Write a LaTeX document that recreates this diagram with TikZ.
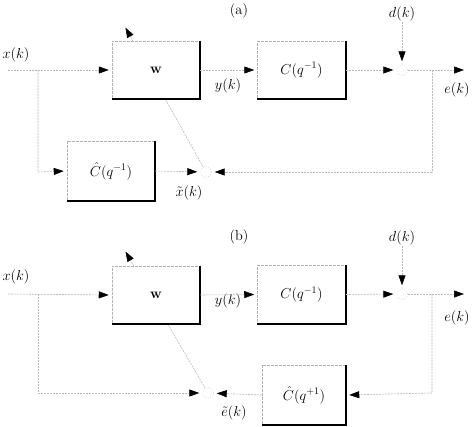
\documentclass[tikz,border=0pt]{standalone}
\usetikzlibrary{arrows.meta}
\newcommand\boxedge[1]{\draw[edge] (#1.north east) -- (#1.south east) -- (#1.south west);}
\begin{document}
\begin{tikzpicture}[x=1pt,y=-1pt,
  sig/.style={draw=gray!55, line width=0.6pt, dash pattern=on 2pt off 1pt},
  arr/.style={sig, -{Triangle[length=10pt,width=7pt,black]}, shorten >=3pt},
  blk/.style={draw=gray!60, line width=0.5pt, dash pattern=on 3pt off 1pt, fill=white,
              minimum width=88pt, minimum height=58pt, inner sep=0pt,
              font=\Large},
  edge/.style={draw=black, line width=1.6pt},
  sum/.style={circle, draw=gray!40, line width=0.4pt, dash pattern=on 1pt off 1.5pt,
              minimum size=11pt, inner sep=0pt},
  lbl/.style={font=\Large, inner sep=1pt},
]
\useasboundingbox (0,0) rectangle (474,427);

% ---------------- (a) ----------------
\node[lbl] (ta) at (239,11) {(a)};
\node[sum] (sa1) at (402,70) {};
\node[sum] (sa2) at (206,172) {};
\coordinate (adapa) at (124,25);
\draw[arr] (sa2) -- (adapa);

\node[blk] (wa) at (156,70) {$\mathbf{w}$};
\node[blk] (Ca) at (301.5,70) {$C(q^{-1})$};
\node[blk, minimum height=60pt] (Cha) at (111,171) {$\hat{C}(q^{-1})$};
\boxedge{wa}
\boxedge{Ca}
\boxedge{Cha}

\node[lbl] (xla) at (16,55) {$x(k)$};
\node[lbl] (yla) at (228,86) {$y(k)$};
\node[lbl] (dla) at (402,14) {$d(k)$};
\node[lbl] (ela) at (457,90) {$e(k)$};
\node[lbl] (xta) at (189,193) {$\tilde{x}(k)$};

\coordinate (ina) at (8,70);
\coordinate (ja) at (38,70);
\coordinate (jb) at (38,172);
\coordinate (eoa) at (467,70);
\coordinate (fa1) at (432,70);
\coordinate (fa2) at (432,172);

\draw[arr] (ina) -- (wa.west);
\draw[arr] (ja) -- (jb) -- (Cha.west);
\draw[arr] (wa.east) -- (Ca.west);
\draw[arr] (Ca.east) -- (sa1);
\draw[arr] (dla.south) -- (sa1);
\draw[arr] (sa1) -- (eoa);
\draw[arr] (fa1) -- (fa2) -- (sa2);
\draw[arr] (Cha.east) -- (sa2);

% ---------------- (b) ----------------
\node[lbl] (tb) at (239,237) {(b)};
\node[sum] (sb1) at (402,294) {};
\node[sum] (sb2) at (208,393) {};
\coordinate (adapb) at (124,249);
\draw[arr] (sb2) -- (adapb);

\node[blk] (wb) at (156,295) {$\mathbf{w}$};
\node[blk] (Cb) at (301.5,294.5) {$C(q^{-1})$};
\node[blk, minimum width=84pt, minimum height=60pt] (Chb) at (304,395) {$\hat{C}(q^{+1})$};
\boxedge{wb}
\boxedge{Cb}
\boxedge{Chb}

\node[lbl] (xlb) at (16,277) {$x(k)$};
\node[lbl] (ylb) at (228,301) {$y(k)$};
\node[lbl] (dlb) at (402,238) {$d(k)$};
\node[lbl] (elb) at (457,318) {$e(k)$};
\node[lbl] (etb) at (234,413) {$\tilde{e}(k)$};

\coordinate (inb) at (8,294);
\coordinate (jc) at (38,294);
\coordinate (jd) at (38,393);
\coordinate (eob) at (467,294);
\coordinate (fb1) at (432,294);
\coordinate (fb2) at (432,393);

\draw[arr] (inb) -- (wb.west);
\draw[arr] (jc) -- (jd) -- (sb2);
\draw[arr] (wb.east) -- (Cb.west);
\draw[arr] (Cb.east) -- (sb1);
\draw[arr] (dlb.south) -- (sb1);
\draw[arr] (sb1) -- (eob);
\draw[arr] (fb1) -- (fb2) -- (Chb.east);
\draw[arr] (Chb.west) -- (sb2);
\end{tikzpicture}
\end{document}
